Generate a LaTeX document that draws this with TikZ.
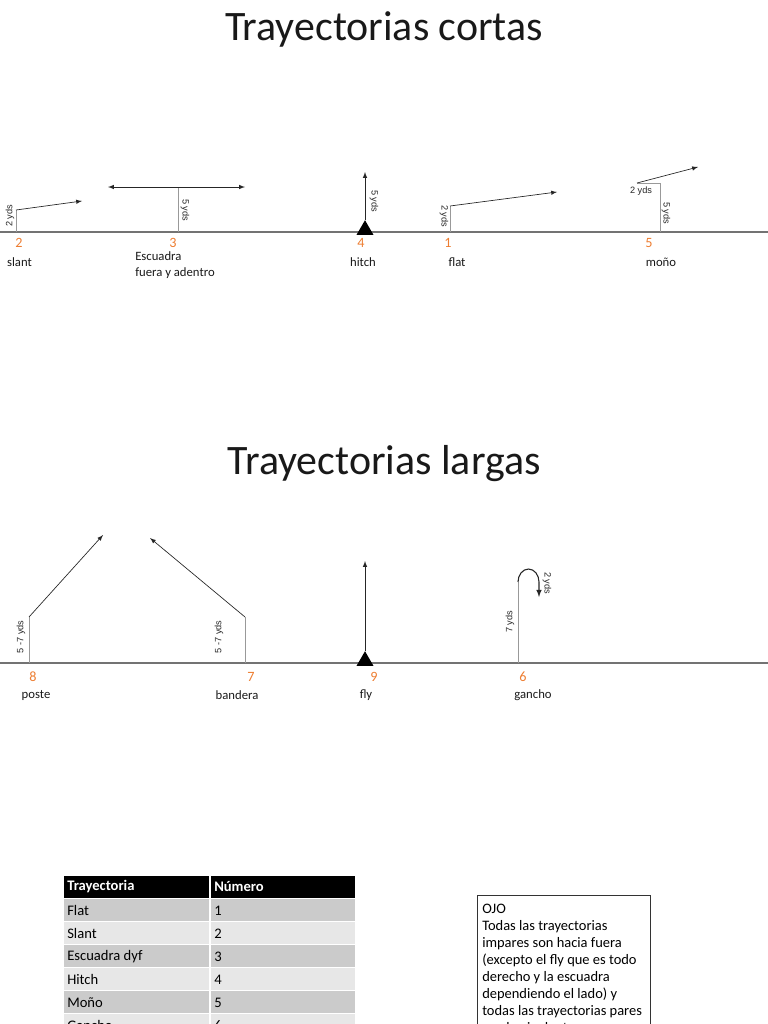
\documentclass[tikz,border=0pt]{standalone}
\usepackage{fontspec}
\setmainfont{Carlito}
\newfontfamily\ydsfont{Liberation Sans}
\usetikzlibrary{arrows,calc,shapes.geometric}
\tikzset{>=latex}
\definecolor{numorange}{RGB}{237,125,49}
\definecolor{rowdark}{RGB}{203,203,203}
\definecolor{rowlight}{RGB}{231,231,231}
\tikzstyle{titulo}=[font=\fontsize{31}{36}\selectfont,text=black!90,inner sep=0pt]
\tikzstyle{linea}=[draw=black!55,line width=0.9pt]
\tikzstyle{stem}=[draw=black!40,line width=0.6pt]
\tikzstyle{ruta}=[->,draw=black!85,line width=0.5pt]
\tikzstyle{num}=[text=numorange,font=\fontsize{10.5}{12}\selectfont,inner sep=0pt]
\tikzstyle{etiq}=[font=\fontsize{9.4}{12}\selectfont,text=black!90,inner sep=0pt]
\tikzstyle{yds}=[font=\ydsfont\fontsize{6.8}{8}\selectfont,text=black!85,inner sep=0pt]
\tikzstyle{qb}=[regular polygon,regular polygon sides=3,fill=black,minimum size=0.51cm,inner sep=0pt]
\tikzstyle{celda}=[font=\fontsize{10.8}{13}\selectfont,anchor=west,inner sep=0pt]

\begin{document}
\begin{tikzpicture}[x=0.026cm,y=-0.026cm]
\def \xl {64};
\def \xm {210};
\def \xr {355};
\def \rowh {23};

\useasboundingbox (0,0) rectangle (768,1024);
\clip (0,0) rectangle (768,1024);

\node[titulo] (t1) at (384,29) {Trayectorias cortas};
\node[titulo] (t2) at (384,464) {Trayectorias largas};

% lineas de golpeo
\coordinate (l1a) at (0,232); \coordinate (l1b) at (768,232);
\coordinate (l2a) at (0,663); \coordinate (l2b) at (768,663);
\draw[linea] (l1a) -- (l1b);
\draw[linea] (l2a) -- (l2b);

% cortas
\coordinate (r2) at (16,232); \coordinate (r2t) at (16,210); \coordinate (r2e) at (82,201);
\draw[stem] (r2) -- (r2t);
\draw[ruta] (r2t) -- (r2e);

\coordinate (r3) at (178,232); \coordinate (r3t) at (178,187);
\coordinate (r3l) at (108,187); \coordinate (r3r) at (245,187);
\draw[stem] (r3) -- (r3t);
\draw[ruta] (r3t) -- (r3l);
\draw[ruta] (r3t) -- (r3r);

\node[qb] (qb1) at (365,230) {};
\coordinate (r4t) at (365,172);
\draw[ruta] (qb1.corner 1) -- (r4t);

\coordinate (r1) at (450,232); \coordinate (r1t) at (450,206); \coordinate (r1e) at (557,192);
\draw[stem] (r1) -- (r1t);
\draw[ruta] (r1t) -- (r1e);

\coordinate (r5) at (660,232); \coordinate (r5t) at (660,183);
\coordinate (r5l) at (637,183); \coordinate (r5e) at (698,167);
\draw[stem] (r5) -- (r5t) -- (r5l);
\draw[ruta] (r5l) -- (r5e);

% largas
\coordinate (r8) at (29,663); \coordinate (r8t) at (29,617); \coordinate (r8e) at (103,535);
\draw[stem] (r8) -- (r8t);
\draw[ruta] (r8t) -- (r8e);

\coordinate (r7) at (245,663); \coordinate (r7t) at (245,617); \coordinate (r7e) at (150,538);
\draw[stem] (r7) -- (r7t);
\draw[ruta] (r7t) -- (r7e);

\node[qb] (qb2) at (365,661) {};
\coordinate (r9t) at (365,561);
\draw[ruta] (qb2.corner 1) -- (r9t);

\coordinate (r6) at (518,663); \coordinate (r6t) at (518,582); \coordinate (r6e) at (539,597);
\draw[stem] (r6) -- (r6t);
\draw[->,draw=black!85,line width=0.8pt] (r6t) arc[start angle=180,end angle=360,x radius=10.5,y radius=13] -- (r6e);

% numeros
\foreach \n/\x/\y in {2/19/243,3/173/243,4/361/243,1/448/243,5/649/243,8/33/677,7/251/677,9/374/677,6/523/677} {
	\node[num] (n\n) at (\x,\y) {\n};
};

% nombres
\node[etiq] (slant) at (19.5,262) {slant};
\node[etiq,anchor=north west,align=left] (escuadra) at (135,251) {Escuadra\\fuera y adentro};
\node[etiq] (hitch) at (363,262) {hitch};
\node[etiq] (flat) at (457,262) {flat};
\node[etiq] (mono) at (661,262) {moño};
\node[etiq] (poste) at (36,695) {poste};
\node[etiq] (bandera) at (237,695) {bandera};
\node[etiq] (fly) at (366,695) {fly};
\node[etiq] (gancho) at (533,695) {gancho};

% yardas
\node[yds,rotate=90] (y2) at (10,216) {2 yds};
\node[yds,rotate=-90] (y3) at (185,210) {5 yds};
\node[yds,rotate=-90] (y4) at (374,201) {5 yds};
\node[yds,rotate=-90] (y1) at (444,216) {2 yds};
\node[yds,rotate=-90] (y5) at (666,213) {5 yds};
\node[yds] (y5b) at (641,191) {2 yds};
\node[yds,rotate=90] (y8) at (21,637) {5 -7 yds};
\node[yds,rotate=90] (y7) at (219,637) {5 -7 yds};
\node[yds,rotate=90] (y6) at (510,622) {7 yds};
\node[yds,rotate=-90] (y6b) at (547,583) {2 yds};

% tabla
\fill[black] (\xl,876) rectangle (\xr,897.5);
\draw[white,line width=1.2pt] (\xm,876) -- (\xm,897.5);
\node[celda,text=white] (h1) at (\xl+3,887) {\bfseries Trayectoria};
\node[celda,text=white] (h2) at (\xm+4,887) {\bfseries Número};
\foreach \nom/\nu [count=\r] in {Flat/1,Slant/2,Escuadra dyf/3,Hitch/4,Moño/5,Gancho/6} {
	\pgfmathsetmacro{\ytop}{876+\rowh*\r}
	\ifodd\r \def\rc{rowdark}\else\def\rc{rowlight}\fi
	\fill[\rc] (\xl,\ytop) rectangle (\xm-1,\ytop+\rowh-1.5);
	\fill[\rc] (\xm+1,\ytop) rectangle (\xr,\ytop+\rowh-1.5);
	\node[celda] (c\r a) at (\xl+3,\ytop+11.5) {\nom};
	\node[celda] (c\r b) at (\xm+4,\ytop+11.5) {\nu};
};

% nota
\draw[black!80,line width=0.5pt] (477,895) rectangle (650,1100);
\node[anchor=north west,align=left,inner sep=0pt,font=\fontsize{10.7}{12.6}\selectfont] (ojo) at (482,903.5)
	{OJO\\Todas las trayectorias\\impares son hacia fuera\\(excepto el fly que es todo\\derecho y la escuadra\\dependiendo el lado) y\\todas las trayectorias pares\\son hacia dentro};

\end{tikzpicture}
\end{document}
